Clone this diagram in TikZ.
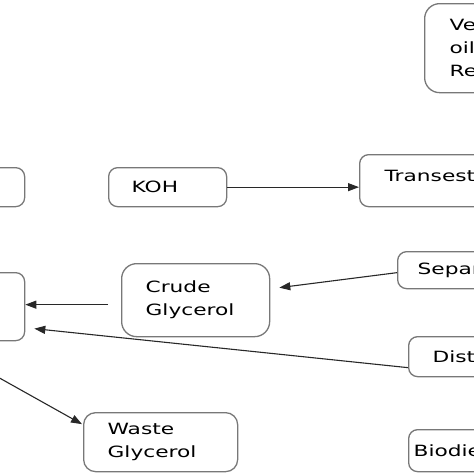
\documentclass[tikz,border=0pt]{standalone}
\usepackage{fontspec}
\setmainfont[FakeStretch=1.4]{DejaVu Sans}
\usetikzlibrary{arrows.meta}
\definecolor{boxline}{RGB}{120,120,120}
\definecolor{arrowline}{RGB}{40,40,40}
\begin{document}
\begin{tikzpicture}[x=1pt,y=-1pt,
  box/.style={draw=boxline, line width=1.3pt, rounded corners=9pt, anchor=north west,
    align=left, inner ysep=0pt, font=\fontsize{15.5}{23}\selectfont},
  flow/.style={draw=arrowline, line width=1.1pt, -{Triangle[length=11pt,width=8pt]}}]
\useasboundingbox (0,0) rectangle (474,474);
\clip (0,0) rectangle (474,474);
\fill[white] (0,0) rectangle (474,474);
% boxes
\node[box, rounded corners=15pt, minimum width=130pt, minimum height=89pt, inner xsep=25pt, text width=80pt] (veg) at (424,3) {Vegetable\\oil\\Residue};
\node[box, minimum width=124pt, minimum height=39pt] (lefta) at (-100,167) {};
\node[box, minimum width=118pt, minimum height=39pt, inner xsep=23pt, text width=72pt] (koh) at (108,167) {KOH};
\node[box, minimum width=300pt, minimum height=52pt, inner xsep=25pt, text width=250pt, text depth=10pt] (trans) at (359,154) {Transesterification};
\node[box, minimum width=124pt, minimum height=68pt] (leftb) at (-100,272) {};
\node[box, rounded corners=15pt, minimum width=148pt, minimum height=73pt, inner xsep=24pt, text width=100pt] (crude) at (121,263) {Crude\\Glycerol};
\node[box, minimum width=200pt, minimum height=37pt, inner xsep=20pt, text width=160pt] (sep) at (397,251) {Separation};
\node[box, minimum width=200pt, minimum height=40pt, inner xsep=24pt, text width=152pt] (dist) at (408,336) {Distillation};
\node[box, rounded corners=12pt, minimum width=154pt, minimum height=59pt, inner xsep=24pt, text width=106pt] (waste) at (83,412) {Waste\\Glycerol};
\node[box, minimum width=200pt, minimum height=42pt, inner xsep=5pt, text width=190pt] (bio) at (408,429) {Biodiesel};
% connector ends
\coordinate (src) at (-30,361.5);
% connectors
\draw[flow] (koh.east) -- (koh.east -| trans.west);
\draw[flow] ([yshift=-2.5pt]sep.west) -- ([xshift=9pt,yshift=12.5pt]crude.east);
\draw[flow] ([xshift=-13pt,yshift=-4.5pt]crude.west) -- ([yshift=-4.5pt]crude.west -| leftb.east);
\draw[flow] ([yshift=-11pt]dist.west) -- ([xshift=9pt,yshift=-22pt]leftb.east);
\draw[flow] (src) -- ([xshift=-1pt,yshift=18pt]waste.west);
\end{tikzpicture}
\end{document}
